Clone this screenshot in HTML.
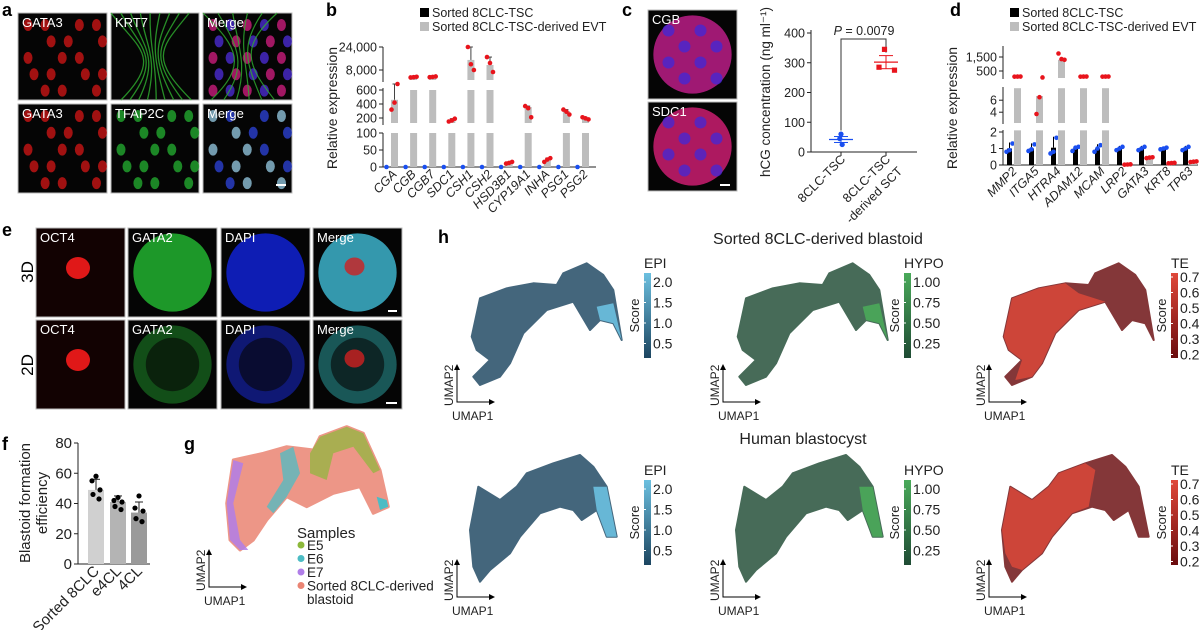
<!DOCTYPE html>
<html><head><meta charset="utf-8"><style>
body{margin:0;background:#fff}
svg{display:block;font-family:"Liberation Sans",Arial,sans-serif}
.pl{font-weight:bold;font-size:18px}
.t{font-size:12.5px;fill:#222}
.it{font-style:italic}
</style></head><body>
<svg id="fig" width="1200" height="630" viewBox="0 0 1200 630" xmlns="http://www.w3.org/2000/svg">
<g id="images"></g>
<g id="panelLabels">
<text class="pl" x="2" y="16">a</text>
<text class="pl" x="326" y="16">b</text>
<text class="pl" x="622" y="16">c</text>
<text class="pl" x="950" y="16">d</text>
<text class="pl" x="2" y="236">e</text>
<text class="pl" x="2" y="450">f</text>
<text class="pl" x="184" y="450">g</text>
<text class="pl" x="438" y="243">h</text>
</g>
<g id="chartB"></g><g id="chartC"></g><g id="chartD"></g><g id="chartF"></g><g id="panelG"></g><g id="panelH"></g>
</svg>
<script>
const NS="http://www.w3.org/2000/svg";
function mk(tag,attrs,parent,txt){const e=document.createElementNS(NS,tag);for(const k in attrs)e.setAttribute(k,attrs[k]);if(txt!==undefined)e.textContent=txt;parent.appendChild(e);return e;}

// ---------- Chart b data ----------
const bCats=["CGA","CGB","CGB7","SDC1","CSH1","CSH2","HSD3B1","CYP19A1","INHA","PSG1","PSG2"];
const bEvt=[460,3000,3200,170,15000,11500,13,357,20,300,200];
const bEvtDots=[[320,420,900],[2800,3000,3300],[3000,3200,3500],[150,165,190],[24000,12000,8000],[17000,12900,6600],[10,12,15],[370,340,210],[15,22,26],[320,290,250],[210,195,180]];
const bTsc=[1,1,1,1,1,1,1,1,1,1,1];
// ---------- Chart c data ----------
const cCats=["8CLC-TSC","8CLC-TSC -derived SCT"];
const cMeans=[42,302];
const cSem=[10,22];
const cDots=[[60,45,25],[345,285,275]];
// ---------- Chart d data ----------
const dCats=["MMP2","ITGA5","HTRA4","ADAM12","MCAM","LRP2","GATA3","KRT8","TP63"];
const dEvt=[100,6.7,1300,100,100,0.03,0.45,0.12,0.2];
const dEvtDots=[[95,100,105],[3.7,6.5,40],[1750,1350,1300],[95,100,105],[95,100,105],[0.02,0.03,0.04],[0.42,0.45,0.47],[0.1,0.12,0.13],[0.18,0.2,0.22]];
const dTsc=[1,1,1.05,1,1,1,1,1,1];
const dTscDots=[[0.8,0.9,1.3],[0.85,0.95,1.25],[0.7,0.8,1.65],[0.85,1.05,1.1],[0.8,1.0,1.2],[0.9,1.0,1.1],[0.9,1.0,1.1],[0.95,1.0,1.05],[0.9,1.0,1.1]];
// ---------- Chart f data ----------
const fCats=["Sorted 8CLC","e4CL","4CL"];
const fMeans=[49,41,34];
const fSd=[7,4,7];
const fDots=[[58,55,49,46,43],[44,42,41,38,36],[45,37,35,30,28]];
const fTicks=[0,20,40,60,80];

// ---------- microscopy images ----------
const IMG=document.getElementById('images');
function microImg(x,y,w,h,label,kind,name){
  const g=mk('g',{},IMG);
  
  
  mk('rect',{x:x,y:y,width:w,height:h,fill:'#050505',stroke:'#bbb','stroke-width':1},g);
  const cols={red:['#c81414'],green:['#22a82e'],mergeA:['#c81c7a','#4a2ad0'],mergeB:['#8fc0d8','#2a40d0']};
  const cs=cols[kind]||['#888'];
  if(kind==='krt'){
    for(let i=0;i<9;i++){mk('path',{d:`M${x+i*w/9} ${y} C ${x+w*0.3+i*3} ${y+h*0.4}, ${x+w*0.6-i*2} ${y+h*0.5}, ${x+i*w/10+10} ${y+h}`,stroke:'#30b030','stroke-width':1.3,fill:'none',opacity:0.8},g);}
  } else if(['sphereG','sphereB','sphereM','ringG','ringB','ringM','cgb','sdc'].includes(kind)){
    const cx=x+w/2,cy=y+h/2;
    const col={sphereG:'#20a82e',sphereB:'#1020c8',sphereM:'#3aa8c0',ringG:'#1d8a28',ringB:'#1828d0',ringM:'#2a9a9a',cgb:'#b01c80',sdc:'#c01c6a'}[kind];
    mk('ellipse',{cx:cx,cy:cy,rx:w*0.44,ry:h*0.44,fill:col,opacity:kind.startsWith('ring')?0.55:0.9},g);
    if(kind.startsWith('ring')) mk('ellipse',{cx:cx,cy:cy,rx:w*0.3,ry:h*0.3,fill:'#050505',opacity:0.6},g);
    if(kind==='cgb'||kind==='sdc'){for(let r=0;r<4;r++)for(let c=0;c<4;c++){if((r+c)%2)continue;mk('circle',{cx:cx-24+c*16,cy:cy-24+r*16,r:6,fill:'#3a2ae0',opacity:0.7},g);}}
    if(kind==='sphereM'||kind==='ringM') mk('ellipse',{cx:cx-3,cy:cy-6,rx:10,ry:9,fill:'#d02020',opacity:0.8},g);
  } else {
    for(let r=0;r<5;r++)for(let c=0;c<5;c++){
      if((r*5+c)%3===2 && kind!=='mergeA') continue;
      mk('ellipse',{cx:x+10+c*w/5.2+(r%2)*6,cy:y+12+r*h/5.3,rx:4.5,ry:6,fill:cs[(r+c)%cs.length],opacity:0.8},g);
    }
  }
  if(kind==='mergeA'){for(let i=0;i<6;i++)mk('path',{d:`M${x+i*w/6} ${y} C ${x+w*0.4} ${y+h*0.4}, ${x+w*0.5} ${y+h*0.6}, ${x+i*w/7+8} ${y+h}`,stroke:'#30b030','stroke-width':1.2,fill:'none',opacity:0.8},g);}
  const t=mk('text',{x:x+4,y:y+14,fill:'#fff','font-size':13},g,label);
  
  
}
microImg(18,13,89,87,'GATA3','red','img-a-gata3-1');
microImg(111,13,88,87,'KRT7','krt','img-a-krt7');
microImg(203,13,89,87,'Merge','mergeA','img-a-merge-1');
microImg(18,104,89,89,'GATA3','red','img-a-gata3-2');
microImg(111,104,88,89,'TFAP2C','green','img-a-tfap2c');
microImg(203,104,89,89,'Merge','mergeB','img-a-merge-2');
mk('rect',{x:276,y:184,width:10,height:2,fill:'#fff'},IMG);
microImg(648,10,89,89,'CGB','cgb','img-c-cgb');
microImg(648,102,89,89,'SDC1','sdc','img-c-sdc1');
mk('rect',{x:720,y:184,width:10,height:2,fill:'#fff'},IMG);
const eX=[36,128,221,313];
const eRow1=[['OCT4','oct'],['GATA2','sphereG'],['DAPI','sphereB'],['Merge','sphereM']];
const eRow2=[['OCT4','oct'],['GATA2','ringG'],['DAPI','ringB'],['Merge','ringM']];
function octImg(x,y,name){const g=mk('g',{},IMG);
  mk('rect',{x:x,y:y,width:89,height:89,fill:'#120202',stroke:'#bbb'},g);mk('ellipse',{cx:x+42,cy:y+40,rx:12,ry:11,fill:'#e01818'},g);mk('text',{x:x+4,y:y+14,fill:'#fff','font-size':13},g,'OCT4');}
eRow1.forEach((d,i)=>{if(i===0)octImg(eX[i],228,'img-e-3d-oct4');else microImg(eX[i],228,89,89,d[0],d[1],'img-e-3d-'+d[0].toLowerCase());});
eRow2.forEach((d,i)=>{if(i===0)octImg(eX[i],320,'img-e-2d-oct4');else microImg(eX[i],320,89,89,d[0],d[1],'img-e-2d-'+d[0].toLowerCase());});
mk('rect',{x:388,y:310,width:9,height:2,fill:'#fff'},IMG);
mk('rect',{x:386,y:402,width:11,height:2,fill:'#fff'},IMG);
let t3=mk('text',{x:0,y:0,'font-size':17,transform:'translate(33,272) rotate(-90)','text-anchor':'middle'},IMG,'3D');

let t2=mk('text',{x:0,y:0,'font-size':17,transform:'translate(33,365) rotate(-90)','text-anchor':'middle'},IMG,'2D');


// ---------- Chart b ----------
(function(){
const G=document.getElementById('chartB');
const ax=383, x0=394.5, step=19.1;
const bx=i=>x0+i*step;
function yB(v){ if(v<=100) return 167-v*0.34; if(v<=600) return 125-(v-100)*0.07; if(v<1000) return 84; return 70-(v-8000)*23/16000; }
mk('rect',{x:420,y:8,width:9,height:9,fill:'#000'},G);
let l1=mk('text',{x:432,y:17,class:'t'},G,'Sorted 8CLC-TSC');
mk('rect',{x:420,y:22,width:9,height:9,fill:'#bdbdbd'},G);
let l2=mk('text',{x:432,y:31,class:'t'},G,'Sorted 8CLC-TSC-derived EVT');
[[47,82],[88,125],[133,167]].forEach(s=>mk('line',{x1:ax,y1:s[0],x2:ax,y2:s[1],stroke:'#222','stroke-width':1},G));
mk('line',{x1:ax,y1:167,x2:596,y2:167,stroke:'#222','stroke-width':1},G);
const ticks=[[24000,'24,000'],[8000,'8,000'],[600,'600'],[400,'400'],[200,'200'],[100,'100'],[50,'50'],[0,'0']];
ticks.forEach(t=>{const y=t[0]===100?133:yB(t[0]);mk('line',{x1:ax-4,y1:y,x2:ax,y2:y,stroke:'#222'},G);mk('text',{x:ax-6,y:y+4.5,class:'t','text-anchor':'end'},G,t[1]);});
let yl=mk('text',{x:0,y:0,'font-size':14,transform:'translate(337,108) rotate(-90)','text-anchor':'middle',fill:'#222'},G,'Relative expression');

bCats.forEach((c,i)=>{
  const cx=bx(i), v=bEvt[i], w=7;
  const g=mk('g',{},G);
  
  
  let top=yB(Math.min(v,100)); mk('rect',{x:cx-w/2,y:top,width:w,height:167-top,fill:'#bdbdbd'},g);
  if(v>100){top=yB(Math.min(v,600));mk('rect',{x:cx-w/2,y:top,width:w,height:123-top,fill:'#bdbdbd'},g);}
  if(v>1000){top=yB(v);mk('rect',{x:cx-w/2,y:top,width:w,height:80-top,fill:'#bdbdbd'},g);}
  const ds=bEvtDots[i]; const mx=Math.max(...ds);
  mk('line',{x1:cx,y1:yB(v),x2:cx,y2:yB(mx),stroke:'#444'},g);
  mk('line',{x1:cx-2,y1:yB(mx),x2:cx+2,y2:yB(mx),stroke:'#444'},g);
  ds.forEach((d,j)=>mk('circle',{cx:cx-3+j*3,cy:yB(d),r:2.3,fill:'#e8141c'},g));
  mk('circle',{cx:cx-8,cy:yB(bTsc[i]*0),r:2.3,fill:'#1a4ff0'},g);
  const tl=mk('text',{x:0,y:0,class:'t it','text-anchor':'end',transform:`translate(${cx+3},${175}) rotate(-45)`},G,c);
  
});
})();

// ---------- Chart c ----------
(function(){
const G=document.getElementById('chartC');
const ax=811, yC=v=>152-v*0.2975, xs=[841,886];
mk('line',{x1:ax,y1:30,x2:ax,y2:152,stroke:'#222'},G);
mk('line',{x1:ax,y1:152,x2:917,y2:152,stroke:'#222'},G);
[0,100,200,300,400].forEach(t=>{mk('line',{x1:ax-4,y1:yC(t),x2:ax,y2:yC(t),stroke:'#222'},G);mk('text',{x:ax-6,y:yC(t)+4.5,class:'t','text-anchor':'end','font-size':14},G,t);});
xs.forEach(x=>mk('line',{x1:x,y1:152,x2:x,y2:156,stroke:'#222'},G));
let yl=mk('text',{x:0,y:0,'font-size':13.5,transform:'translate(770,92) rotate(-90)','text-anchor':'middle',fill:'#222'},G,'hCG concentration (ng ml\u207B\u00B9)');

mk('path',{d:`M${xs[0]} ${yC(cMeans[0]+cSem[0])-6} V39 H${xs[1]} V${yC(cMeans[1]+cSem[1])-3}`,fill:'none',stroke:'#333'},G);
let p=mk('text',{x:864,y:35,class:'t','text-anchor':'middle','font-size':14},G);

mk('tspan',{'font-style':'italic'},p,'P');mk('tspan',{},p,' = 0.0079');
const colors=['#1a4ff0','#e8141c'];
cCats.forEach((c,i)=>{
  const g=mk('g',{},G);
  
  
  const x=xs[i],col=colors[i];
  mk('line',{x1:x-12,y1:yC(cMeans[i]),x2:x+12,y2:yC(cMeans[i]),stroke:col,'stroke-width':1.3},g);
  mk('line',{x1:x,y1:yC(cMeans[i]-cSem[i]),x2:x,y2:yC(cMeans[i]+cSem[i]),stroke:col},g);
  mk('line',{x1:x-7,y1:yC(cMeans[i]-cSem[i]),x2:x+7,y2:yC(cMeans[i]-cSem[i]),stroke:col},g);
  mk('line',{x1:x-7,y1:yC(cMeans[i]+cSem[i]),x2:x+7,y2:yC(cMeans[i]+cSem[i]),stroke:col},g);
  cDots[i].forEach((d,j)=>{const dx=[0,-4,4][j]+(i?[-1,-2,3][j]*1.5:0);
    if(i===0) mk('circle',{cx:x+dx*0.3,cy:yC(d),r:2.6,fill:col},g);
    else mk('rect',{x:x+dx-2.6,y:yC(d)-2.6,width:5.2,height:5.2,fill:col},g);});
});
let a1=mk('text',{x:0,y:0,class:'t','text-anchor':'end','font-size':13,transform:'translate(846,160) rotate(-45)'},G,'8CLC-TSC');

let a2=mk('text',{x:0,y:0,class:'t','text-anchor':'end','font-size':13,transform:'translate(891,160) rotate(-45)'},G,'8CLC-TSC');

mk('text',{x:0,y:0,class:'t','text-anchor':'end','font-size':13,transform:'translate(903,172) rotate(-45)'},G,'-derived SCT');
})();

// ---------- Chart d ----------
(function(){
const G=document.getElementById('chartD');
const ax=1003, x0=1009.5, step=22;
function yD(v){ if(v<=2.15) return 165-v*16.5; if(v<=8) return 123-(v-2.2)*6; return 78-v*0.014; }
mk('rect',{x:1010,y:8,width:9,height:9,fill:'#000'},G);
let l1=mk('text',{x:1022,y:17,class:'t'},G,'Sorted 8CLC-TSC');
mk('rect',{x:1010,y:22,width:9,height:9,fill:'#bdbdbd'},G);
let l2=mk('text',{x:1022,y:31,class:'t'},G,'Sorted 8CLC-TSC-derived EVT');
[[46,79],[87,124],[130,165]].forEach(s=>mk('line',{x1:ax,y1:s[0],x2:ax,y2:s[1],stroke:'#222'},G));
mk('line',{x1:ax,y1:165,x2:1198,y2:165,stroke:'#222'},G);
[[1500,'1,500'],[500,'500'],[6,'6'],[4,'4'],[2,'2'],[1,'1'],[0,'0']].forEach(t=>{const y=t[0]===2?132:yD(t[0]);mk('line',{x1:ax-4,y1:y,x2:ax,y2:y,stroke:'#222'},G);mk('text',{x:ax-6,y:y+4.5,class:'t','text-anchor':'end','font-size':14},G,t[1]);});
let yl=mk('text',{x:0,y:0,'font-size':14,transform:'translate(957,108) rotate(-90)','text-anchor':'middle',fill:'#222'},G,'Relative expression');

dCats.forEach((c,i)=>{
  const cx=x0+i*step;
  const g=mk('g',{},G);
  
  
  const tb=yD(dTsc[i]); mk('rect',{x:cx-2.5,y:tb,width:5,height:165-tb,fill:'#000'},g);
  const mb=Math.max(...dTscDots[i]); mk('line',{x1:cx,y1:tb,x2:cx,y2:yD(mb)-1,stroke:'#000'},g);
  dTscDots[i].forEach((d,j)=>mk('circle',{cx:cx-3+j*3,cy:yD(d),r:2.3,fill:'#1a4ff0'},g));
  const gx=cx+8, v=dEvt[i];
  let top=yD(Math.min(v,2.1)); mk('rect',{x:gx-3.5,y:top,width:7,height:165-top,fill:'#bdbdbd'},g);
  if(v>2.2){top=yD(Math.min(v,8));mk('rect',{x:gx-3.5,y:top,width:7,height:123-top,fill:'#bdbdbd'},g);}
  if(v>8){top=yD(v);mk('rect',{x:gx-3.5,y:top,width:7,height:78-top,fill:'#bdbdbd'},g);}
  dEvtDots[i].forEach((d,j)=>mk('circle',{cx:gx-3+j*3,cy:yD(d),r:2.3,fill:'#e8141c'},g));
  const tl=mk('text',{x:0,y:0,class:'t it','text-anchor':'end',transform:`translate(${cx+8},172) rotate(-45)`},G,c);
  
});
})();

// ---------- Chart f ----------
(function(){
const G=document.getElementById('chartF');
const ax=78, yF=v=>564-v*1.5125, xs=[96,118,139], fills=['#d0d0d0','#b4b4b4','#9a9a9a'];
mk('line',{x1:ax,y1:yF(80),x2:ax,y2:564,stroke:'#222'},G);
mk('line',{x1:ax,y1:564,x2:150,y2:564,stroke:'#222'},G);
fTicks.forEach(t=>{mk('line',{x1:ax-4,y1:yF(t),x2:ax,y2:yF(t),stroke:'#222'},G);mk('text',{x:ax-6,y:yF(t)+5,'font-size':15,'text-anchor':'end',fill:'#222'},G,t);});
let yl=mk('text',{x:0,y:0,'font-size':15,transform:'translate(30,503) rotate(-90)','text-anchor':'middle',fill:'#222'},G,'Blastoid formation');

mk('text',{x:0,y:0,'font-size':15,transform:'translate(47,503) rotate(-90)','text-anchor':'middle',fill:'#222'},G,'efficiency');
fCats.forEach((c,i)=>{
  const g=mk('g',{},G);
  
  
  const x=xs[i],top=yF(fMeans[i]);
  mk('rect',{x:x-8,y:top,width:16,height:564-top,fill:fills[i]},g);
  mk('line',{x1:x,y1:top,x2:x,y2:yF(fMeans[i]+fSd[i]),stroke:'#222'},g);
  mk('line',{x1:x-4,y1:yF(fMeans[i]+fSd[i]),x2:x+4,y2:yF(fMeans[i]+fSd[i]),stroke:'#222'},g);
  fDots[i].forEach((d,j)=>mk('circle',{cx:x+[0,-4,4,-3,3][j],cy:yF(d),r:2.6,fill:'#000'},g));
  const tl=mk('text',{x:0,y:0,'font-size':15,'text-anchor':'end',fill:'#222',transform:`translate(${x+4},572) rotate(-45)`},G,c);
  
});
})();

// ---------- UMAP shapes ----------
const blastoidShape=[[215,350],[240,235],[320,205],[400,190],[470,195],[490,160],[560,130],[610,165],[640,210],[665,360],[640,310],[600,300],[570,330],[520,245],[440,270],[370,340],[330,430],[300,470],[240,495],[220,470],[270,420],[230,390]];
const humanShape=[[210,930],[235,800],[300,840],[350,800],[380,760],[460,730],[540,705],[580,740],[620,800],[650,950],[620,950],[590,870],[545,900],[520,870],[480,860],[420,880],[360,950],[330,1000],[270,1050],[240,1085],[220,1040]];
function pts(shape,dx,dy){return shape.map(p=>(p[0]/3+dx).toFixed(1)+','+(p[1]/3+dy).toFixed(1)).join(' ');}
function umapArrows(G,ox,oy,name){
  const g=mk('g',{},G);
  
  
  mk('path',{d:`M${ox} ${oy-36} V${oy} H${ox+34}`,fill:'none',stroke:'#000','stroke-width':1},g);
  mk('path',{d:`M${ox-3} ${oy-32} L${ox} ${oy-38} L${ox+3} ${oy-32}Z M${ox+32} ${oy-3} L${ox+38} ${oy} L${ox+32} ${oy+3}Z`,fill:'#000'},g);
  mk('text',{x:0,y:0,'font-size':12,transform:`translate(${ox-4},${oy+4}) rotate(-90)`,fill:'#222'},g,'UMAP2');
  mk('text',{x:ox-5,y:oy+18,'font-size':12,fill:'#222'},g,'UMAP1');
}
(function(){
const G=document.getElementById('panelG');
const gShape=[[680,850],[700,720],[790,700],[860,680],[940,690],[960,650],[1040,620],[1090,640],[1140,750],[1165,860],[1120,880],[1080,800],[1000,820],[920,860],[860,830],[800,900],[760,960],[720,990],[690,960]];
const s=mk('polygon',{points:pts(gShape,0,220),fill:'#ea8473',stroke:'#ea8473','stroke-width':3,'stroke-linejoin':'round',opacity:0.85},G);

mk('polygon',{points:pts([[680,850],[700,720],[730,730],[700,850],[720,960],[745,990],[720,990],[690,960]],0,220),fill:'#b07ee8',opacity:0.85},G);
mk('polygon',{points:pts([[840,700],[880,680],[900,760],[860,830],[820,880],[800,860],[850,780]],0,220),fill:'#4cbcc4',opacity:0.75},G);
mk('polygon',{points:pts([[930,700],[960,650],[1040,620],[1090,640],[1140,750],[1120,760],[1060,680],[1000,700],[980,780],[930,760]],0,220),fill:'#8cb83a',opacity:0.7},G);
mk('polygon',{points:pts([[1130,830],[1160,840],[1165,860],[1140,870]],0,220),fill:'#4cbcc4'},G);
mk('text',{x:297,y:538,'font-size':15,fill:'#222'},G,'Samples');
const leg=[['E5','#8cb83a'],['E6','#4cbcc4'],['E7','#b07ee8'],['Sorted 8CLC-derived','#ea8473']];
leg.forEach((l,i)=>{const y=545+i*13.5;const c=mk('circle',{cx:301,cy:y,r:3.5,fill:l[1]},G);mk('text',{x:307,y:y+5,'font-size':13.5,fill:'#222'},G,l[0]);});
mk('text',{x:307,y:604,'font-size':13.5,fill:'#222'},G,'blastoid');
umapArrows(G,209,587,'umap-axes-g');
})();
(function(){
const G=document.getElementById('panelH');
mk('text',{x:818,y:244,'font-size':16,'text-anchor':'middle',fill:'#222'},G,'Sorted 8CLC-derived blastoid');
mk('text',{x:803,y:444,'font-size':16,'text-anchor':'middle',fill:'#222'},G,'Human blastocyst');
const cols=[{dx:400,cb:644,name:'EPI',dark:'#1c4560',light:'#6cc0e0',ticks:['2.0','1.5','1.0','0.5']},
            {dx:666,cb:904,name:'HYPO',dark:'#1f4b34',light:'#4aaa5a',ticks:['1.00','0.75','0.50','0.25']},
            {dx:932,cb:1171,name:'TE',dark:'#6a0c0e',light:'#e0483a',ticks:['0.7','0.6','0.5','0.4','0.3','0.2']}];
cols.forEach((c,ci)=>{
  [0,1].forEach(r=>{
    const shape=r?humanShape:blastoidShape;
    const s=mk('polygon',{points:pts(shape,c.dx,220),fill:c.dark,stroke:c.dark,'stroke-width':2,'stroke-linejoin':'round',opacity:0.82},G);
    
    
    if(c.name==='TE'){
      const left=r?[[210,930],[235,800],[300,840],[350,800],[380,760],[460,730],[490,750],[470,860],[420,880],[360,950],[330,1000],[270,1050],[240,1040],[220,1000]]
                   :[[215,350],[240,235],[320,205],[400,190],[440,220],[520,245],[440,270],[370,340],[330,430],[300,470],[250,480],[270,420],[230,390]];
      mk('polygon',{points:pts(left,c.dx,220),fill:c.light,opacity:0.8},G);
    } else {
      const tip=r?[[580,800],[620,800],[650,950],[620,950],[590,870]]:[[590,260],[640,250],[665,360],[640,310],[600,300]];
      mk('polygon',{points:pts(tip,c.dx,220),fill:c.light,opacity:0.9},G);
    }
    const oy=r?597:402;
    umapArrows(G,c.dx+57,oy,'umap-axes-'+c.name.toLowerCase()+'-'+r);
    const y0=r?480:273, h=85;
    const gid='cb'+ci+r;
    const lg=mk('linearGradient',{id:gid,x1:0,y1:1,x2:0,y2:0},G);
    mk('stop',{offset:0,'stop-color':c.dark},lg);mk('stop',{offset:1,'stop-color':c.light},lg);
    const cb=mk('rect',{x:c.cb,y:y0,width:7,height:h,fill:`url(#${gid})`},G);
    
    
    mk('text',{x:c.cb,y:y0-5,'font-size':14,fill:'#222'},G,c.name);
    const sp=(c.name==='TE')?15.5:20.5, first=(c.name==='TE')?y0+4:y0+9;
    c.ticks.forEach((t,k)=>{const y=first+k*sp;mk('line',{x1:c.cb,y1:y,x2:c.cb+2,y2:y,stroke:'#fff'},G);mk('text',{x:c.cb+9,y:y+5,'font-size':14,fill:'#222'},G,t);});
    mk('text',{x:0,y:0,'font-size':13,'text-anchor':'middle',transform:`translate(${c.cb-5},${y0+h/2}) rotate(-90)`,fill:'#222'},G,'Score');
  });
});
})();
</script>
</body></html>
